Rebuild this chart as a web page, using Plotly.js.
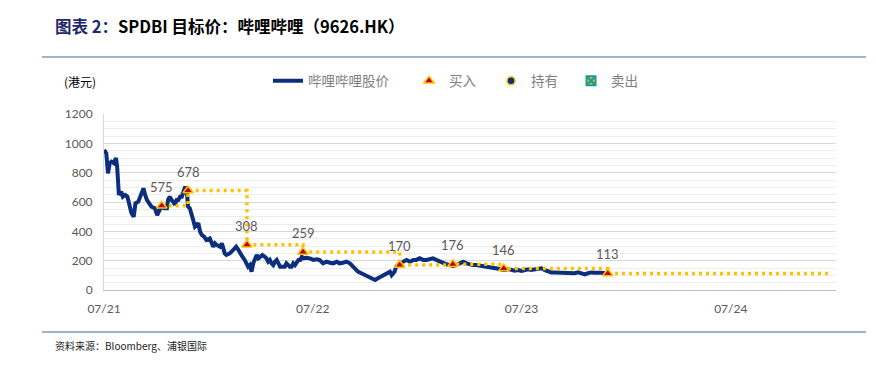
<!DOCTYPE html>
<html>
<head>
<meta charset="utf-8">
<script src="https://cdn.plot.ly/plotly-3.0.1.min.js"></script>
<style>html,body{margin:0;padding:0;background:#fff;}#chart{width:876px;height:370px;}</style>
</head>
<body>
<div id="chart"></div>
<script>
// ---- data ----
const priceDates = [
"2021-07-01","2021-07-05","2021-07-08","2021-07-11","2021-07-14","2021-07-18","2021-07-22","2021-07-24","2021-07-27","2021-07-31",
"2021-08-03","2021-08-07","2021-08-11","2021-08-14","2021-08-18","2021-08-22","2021-08-25","2021-08-30","2021-09-02","2021-09-05",
"2021-09-08","2021-09-11","2021-09-14","2021-09-18","2021-09-22","2021-09-28","2021-10-02","2021-10-06","2021-10-10","2021-10-14",
"2021-10-19","2021-10-21","2021-10-24","2021-10-27","2021-10-30","2021-11-02","2021-11-05","2021-11-08","2021-11-11","2021-11-14",
"2021-11-17","2021-11-20","2021-11-23","2021-11-24","2021-11-25","2021-11-28","2021-12-01","2021-12-04","2021-12-07","2021-12-10",
"2021-12-13","2021-12-16","2021-12-19","2021-12-23","2021-12-27","2022-01-02","2022-01-05","2022-01-08","2022-01-11","2022-01-14",
"2022-01-20","2022-01-23","2022-01-25","2022-01-28","2022-01-31","2022-02-06","2022-02-12","2022-02-17","2022-02-21","2022-02-24",
"2022-02-28","2022-03-04","2022-03-07","2022-03-10","2022-03-13","2022-03-16","2022-03-19","2022-03-22","2022-03-25","2022-03-28",
"2022-03-31","2022-04-04","2022-04-08","2022-04-11","2022-04-14","2022-04-17","2022-04-20","2022-04-23","2022-04-26","2022-04-29",
"2022-05-02","2022-05-05","2022-05-09","2022-05-13","2022-05-16","2022-05-19","2022-05-22","2022-05-25","2022-05-28","2022-05-31",
"2022-06-03","2022-06-06","2022-06-09","2022-06-12","2022-06-14","2022-06-20","2022-06-26","2022-07-02","2022-07-08","2022-07-13",
"2022-07-19","2022-07-25","2022-07-31","2022-08-06","2022-08-12","2022-08-17","2022-08-23","2022-08-29","2022-09-04","2022-09-10",
"2022-09-16","2022-09-18","2022-09-24","2022-09-30","2022-10-06","2022-10-12","2022-10-18","2022-10-23","2022-10-29","2022-11-04",
"2022-11-10","2022-11-13","2022-11-16","2022-11-21","2022-11-24","2022-11-27","2022-11-30","2022-12-03","2022-12-06","2022-12-12",
"2022-12-18","2022-12-24","2022-12-29","2023-01-04","2023-01-10","2023-01-16","2023-01-22","2023-01-27","2023-02-02","2023-02-08",
"2023-02-14","2023-02-20","2023-02-26","2023-03-03","2023-03-09","2023-03-15","2023-03-21","2023-03-27","2023-04-02","2023-04-07",
"2023-04-13","2023-04-19","2023-04-25","2023-05-01","2023-05-07","2023-05-12","2023-05-18","2023-05-24","2023-05-30","2023-06-02",
"2023-06-08","2023-06-13","2023-06-19","2023-06-25","2023-07-01","2023-07-07","2023-07-13","2023-07-18","2023-07-24","2023-07-30",
"2023-08-05","2023-08-11","2023-08-16","2023-08-22","2023-08-28","2023-09-03","2023-09-09","2023-09-15","2023-09-20","2023-09-26",
"2023-10-02","2023-10-08","2023-10-14","2023-10-20","2023-10-25","2023-10-31","2023-11-06","2023-11-12","2023-11-18","2023-11-24"
];
const priceValues = [
955,932,795,865,875,865,900,840,648,670,
636,648,636,591,523,500,591,602,636,670,
693,648,614,591,568,557,511,545,568,557,
557,614,636,614,602,580,614,614,636,636,
682,704,670,614,568,557,523,477,432,443,
455,398,375,364,341,352,318,295,318,307,
295,318,295,250,239,250,273,295,273,250,
227,205,182,159,170,125,182,216,239,216,
227,239,227,216,193,205,182,170,193,205,
182,159,159,159,182,170,159,159,182,170,
193,205,205,227,216,220,216,205,209,205,
182,193,186,182,193,182,186,193,182,159,
136,125,114,102,91,80,68,80,91,102,
114,125,102,125,159,170,182,175,193,205,
193,205,205,216,205,205,211,216,205,193,
182,175,170,164,170,182,193,182,175,170,
170,166,164,159,159,152,148,143,136,136,
143,136,132,136,130,136,141,136,141,143,
148,136,130,120,120,118,118,120,114,114,
114,120,114,107,114,120,118,120,118,114
];
const ratingDates = ["2021-10-10","2021-11-25","2022-03-08","2022-06-14","2022-11-30","2023-03-03","2023-05-31","2023-11-29"];
const targetPrices = [575,678,308,259,170,176,146,113];
const targetEndDate = "2024-12-20";
const tickDates = ["2021-07-01","2022-07-01","2023-07-01","2024-07-01"];
const tickLabels = ["07/21","07/22","07/23","07/24"];
const seriesNames = ["哔哩哔哩股价","买入","持有","卖出"];

// ---- chart ----
const navy = "#0B2F7E";
const gold = "#FFC000";
const legendFont = {family:"Noto Sans CJK SC", size:13.5, color:"#7F7F7F"};

const traces = [
  {x:priceDates, y:priceValues, type:"scatter", mode:"lines", name:seriesNames[0],
   line:{color:navy, width:4}, legend:"legend", hoverinfo:"skip"},
  {x:ratingDates.concat([targetEndDate]), y:targetPrices.concat([targetPrices[targetPrices.length-1]]),
   type:"scatter", mode:"lines", line:{color:gold, width:3.5, dash:"3px,4px", shape:"hv"},
   showlegend:false, hoverinfo:"skip"},
  {x:ratingDates, y:targetPrices, type:"scatter", mode:"markers", name:seriesNames[1],
   marker:{symbol:"triangle-up", size:9, color:"#C00000", line:{color:gold, width:1.5}}, legend:"legend2"},
  {x:[null], y:[null], type:"scatter", mode:"markers", name:seriesNames[2],
   marker:{symbol:"circle", size:8, color:"#0B2F7E", line:{color:gold, width:1.5}}, legend:"legend3"},
  {x:[null], y:[null], type:"scatter", mode:"markers", name:seriesNames[3],
   marker:{symbol:"square-x", size:9, color:gold, line:{color:"#169C9C", width:2}}, legend:"legend4"}
];

const annotations = ratingDates.map((d,i)=>({
  x:d, y:targetPrices[i], xref:"x", yref:"y", text:String(targetPrices[i]), showarrow:false,
  yshift:19, font:{family:"Lato", size:13, color:"#595959"}
}));
annotations.push({xref:"paper", yref:"paper", x:-0.0574, y:1.1875, xanchor:"left", yanchor:"middle",
  text:"(港元)", showarrow:false, font:{family:"Noto Sans CJK SC", size:12, color:"#000"}});
annotations.push({xref:"paper", yref:"paper", x:-0.0697, y:-0.318, xanchor:"left", yanchor:"middle",
  text:"资料来源：Bloomberg、浦银国际", showarrow:false, font:{family:"Noto Sans CJK SC", size:10, color:"#222"}});

const legendBase = (x)=>({orientation:"h", x:x, xanchor:"left", y:1.1875, yanchor:"middle",
  font:legendFont, bgcolor:"rgba(0,0,0,0)", borderwidth:0, itemwidth:30});

const layout = {
  width:876, height:370, autosize:false,
  margin:{l:104, r:40, t:114, b:80},
  paper_bgcolor:"#fff", plot_bgcolor:"#fff",
  title:{text:'<span style="color:#1F2A6E">图表 2：</span>SPDBI 目标价：哔哩哔哩（9626.HK）',
    x:0.0628, xref:"container", xanchor:"left", y:0.927, yref:"container", yanchor:"middle",
    font:{family:"Noto Sans CJK SC", size:16.5, color:"#000", weight:700}},
  xaxis:{type:"date", range:["2021-07-01","2025-01-01"], tickmode:"array", tickvals:tickDates, ticktext:tickLabels,
    showgrid:false, zeroline:false, showline:true, linecolor:"#BFBFBF", linewidth:1, ticks:"",
    tickfont:{family:"Lato", size:12, color:"#595959"}, ticklabelstandoff:8, fixedrange:true},
  yaxis:{range:[0,1200], dtick:200, tick0:0, showgrid:true, gridcolor:"#D9D9D9", gridwidth:1,
    minor:{dtick:50, showgrid:true, gridcolor:"#EDEDED", gridwidth:1},
    zeroline:false, showline:true, linecolor:"#D9D9D9", ticks:"",
    tickfont:{family:"Lato", size:12, color:"#595959"}, ticklabelstandoff:8, fixedrange:true},
  legend:legendBase(0.224),
  legend2:legendBase(0.4167),
  legend3:legendBase(0.5287),
  legend4:legendBase(0.638),
  annotations:annotations,
  shapes:[
    {type:"line", xref:"paper", yref:"paper", x0:-0.0847, x1:1.041, y0:1.3239, y1:1.3239, line:{color:"#8497C0", width:1.5}},
    {type:"line", xref:"paper", yref:"paper", x0:-0.0847, x1:1.041, y0:-0.2386, y1:-0.2386, line:{color:"#8497C0", width:1.5}}
  ],
  showlegend:true
};

Plotly.newPlot("chart", traces, layout, {displayModeBar:false, staticPlot:true});
</script>
</body>
</html>
